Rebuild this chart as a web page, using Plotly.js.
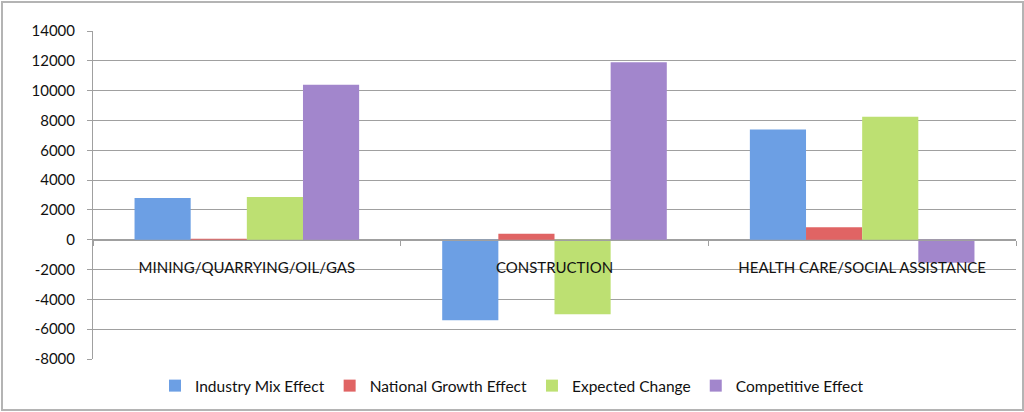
<!DOCTYPE html>
<html>
<head>
<meta charset="utf-8">
<script src="https://cdn.plot.ly/plotly-3.0.1.min.js"></script>
<style>
  html, body { margin: 0; padding: 0; background: #fff; }
  #wrap { position: relative; width: 1024px; height: 412px; }
  #chart { width: 1024px; height: 412px; }
  #frame {
    position: absolute; left: 1px; top: 1px; width: 1019px; height: 406px;
    border: 2px solid #b4b4b4; pointer-events: none;
  }
</style>
</head>
<body>
<div id="wrap">
  <div id="chart"></div>
  <div id="frame"></div>
</div>
<script>
// Shift-share components by industry
const categories = ['MINING/QUARRYING/OIL/GAS', 'CONSTRUCTION', 'HEALTH CARE/SOCIAL ASSISTANCE'];
const industryMix = [2800, -5400, 7400];
const nationalGrowth = [60, 400, 830];
const expectedChange = [2870, -5000, 8250];
const competitive = [10400, 11900, -1550];

const seriesNames = ['Industry Mix Effect', 'National Growth Effect', 'Expected Change', 'Competitive Effect'];
const seriesValues = [industryMix, nationalGrowth, expectedChange, competitive];
const seriesColors = ['#6c9fe4', '#e06464', '#bde072', '#a286cc'];

const yRange = [-8000, 14000];
const yTicks = [-8000, -6000, -4000, -2000, 0, 2000, 4000, 6000, 8000, 10000, 12000, 14000];

const FONT = 'Lato, "Liberation Sans", sans-serif';

const traces = seriesNames.map((name, i) => ({
  type: 'bar',
  name: name,
  x: categories,
  y: seriesValues[i],
  marker: { color: seriesColors[i], line: { width: 0 } },
  hoverinfo: 'x+y+name'
}));

// category axis sits on the zero line
const zeroPos = (0 - yRange[0]) / (yRange[1] - yRange[0]);

const layout = {
  width: 1024,
  height: 412,
  margin: { l: 93, r: 8, t: 31, b: 53 },
  paper_bgcolor: '#ffffff',
  plot_bgcolor: '#ffffff',
  barmode: 'group',
  bargap: 0.27,
  bargroupgap: 0,
  font: { family: FONT, size: 14, color: '#111111' },
  showlegend: true,
  legend: {
    orientation: 'h',
    xref: 'container', yref: 'container',
    x: 0.5, xanchor: 'center',
    y: 0.063, yanchor: 'middle',
    font: { family: FONT, size: 15.5, color: '#111111' },
    itemwidth: 30,
    traceorder: 'normal'
  },
  xaxis: {
    type: 'category',
    range: [-0.5, categories.length - 0.5],
    anchor: 'free',
    position: zeroPos,
    showline: true,
    linecolor: '#a0a0a0',
    linewidth: 1,
    showgrid: false,
    zeroline: false,
    ticks: 'outside',
    tickson: 'boundaries',
    ticklen: 5,
    tickcolor: '#a0a0a0',
    ticklabelstandoff: 14,
    tickfont: { family: FONT, size: 15, color: '#111111' },
    fixedrange: true
  },
  yaxis: {
    range: yRange,
    tickmode: 'array',
    tickvals: yTicks,
    ticktext: yTicks.map(String),
    showline: true,
    linecolor: '#a0a0a0',
    linewidth: 1,
    showgrid: true,
    gridcolor: '#a0a0a0',
    gridwidth: 1,
    zeroline: false,
    ticks: 'outside',
    ticklen: 5,
    tickcolor: '#a0a0a0',
    ticklabelstandoff: 9,
    tickfont: { family: FONT, size: 15, color: '#111111' },
    fixedrange: true
  }
};

Plotly.newPlot('chart', traces, layout, { displayModeBar: false, staticPlot: true });
</script>
</body>
</html>
